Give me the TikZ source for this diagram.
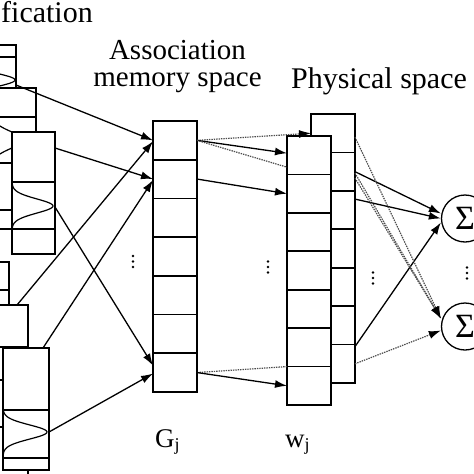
\documentclass[tikz,border=0pt]{standalone}
\usepackage{fontspec}
\setmainfont{Liberation Serif}
\usetikzlibrary{arrows.meta}
\begin{document}
\begin{tikzpicture}[x=1pt,y=-1pt,
 box/.style={draw=black,line width=1.8pt,fill=white},
 ln/.style={draw=black,line width=1.8pt},
 hot/.style={draw=black,line width=2.3pt},
 curve/.style={draw=black,line width=1.2pt},
 cell/.style={draw=black,line width=1.8pt,fill=white,minimum width=44pt,inner sep=0pt,outer sep=0pt},
 arr/.style={draw=black,line width=1.3pt,-{Latex[length=12pt,width=8pt]}},
 dots/.style={draw=black!70,line width=1.2pt,dash pattern=on 1.4pt off 1pt},
 darr/.style={dots,-{Latex[length=12pt,width=8pt,color=black]}},
 sig/.style={circle,draw=black,line width=1.3pt,minimum size=47pt,inner sep=0pt,font=\fontsize{34}{34}\selectfont},
 lbl/.style={inner sep=0pt,font=\fontsize{30}{30}\selectfont},
 vd/.pic={\fill (0,-5.5) circle (1.4pt) (0,0) circle (1.4pt) (0,5.5) circle (1.4pt);}
]
\useasboundingbox (0,0) rectangle (474,474);
\begin{scope}
\clip (0,0) rectangle (474,474);
% ---- left quantization layers, top group
\draw[box] (-28,45) rectangle (16,130);
\draw[ln] (-28,57) -- (16,57);
\draw[curve] plot[domain=57:100,samples=50,variable=\t] ({-28+43*exp(-(\t-80)*(\t-80)/81)},\t);
\draw[box] (-8,88) rectangle (36,229);
\draw[ln] (-8,210) -- (36,210);
\draw[hot] (-8,117) rectangle (36,163);
\draw[curve] plot[domain=117:163,samples=50,variable=\t] ({-8+31*exp(-(\t-140)*(\t-140)/144)},\t);
\draw[box] (12,132) rectangle (55,254);
\draw[hot] (12,182) rectangle (55,229);
\draw[curve] plot[domain=182:229,samples=50,variable=\t] ({12+41*exp(-(\t-206)*(\t-206)/100)},\t);
% ---- bottom group
\draw[box] (-35,262) rectangle (9,480);
\draw[ln] (-35,290) -- (9,290);
\draw[box] (-16,305) rectangle (28,480);
\draw[hot] (-16,347) -- (28,347);
\draw[ln] (-16,380) -- (28,380) (-16,427) -- (28,427);
\draw[box] (3,348) rectangle (49,470);
\draw[hot] (3,410) rectangle (49,458);
\draw[curve] plot[domain=410:458,samples=50,variable=\t] ({3+44*exp(-(\t-432)*(\t-432)/100)},\t);
% ---- association memory G
\foreach \k in {1,...,7} \node[cell,minimum height=38.7pt] (G\k) at (175,{121+38.7*(\k-0.5)}) {};
% ---- physical space (back column V, front column W)
\foreach \k in {1,...,7} \node[cell,minimum height=38.43pt] (V\k) at (333,{114+38.43*(\k-0.5)}) {};
\foreach \k in {1,...,7} \node[cell,minimum height=38.43pt] (W\k) at (309,{136+38.43*(\k-0.5)}) {};
% ---- sums
\node[sig] (S1) at (465,218.5) {Σ};
\node[sig] (S2) at (465,326.5) {Σ};
% ---- arrow sources on the left
\coordinate (sA) at (16,85);
\coordinate (sC1) at (55,148);
\coordinate (sD) at (17,305);
\coordinate (sE) at (43,348);
\coordinate (sC2) at (55,207);
\coordinate (sE2) at (49,432);
\draw[arr] (sA) -- (G1.west);
\draw[arr] (sC1) -- (G2.west);
\draw[arr] (sD) -- ([yshift=-1pt]G1.west);
\draw[arr] (sE) -- ([yshift=-1pt]G2.west);
\draw[arr] (sC2) -- ([yshift=7pt]G7.west);
\draw[arr] (sE2) -- ([yshift=-1pt]G7.west);
% ---- G to physical space
\draw[darr] (G1.east) -- (V1.west);
\draw[arr] (G1.east) -- ([yshift=2pt]W1.west);
\draw[dots] (G1.east) -- ([yshift=-12pt]W1.west);
\draw[arr] (G2.east) -- (W2.west);
\draw[dots] (G7.east) -- (W7.north west);
\draw[arr] (G7.east) -- (W7.west);
% ---- physical space to sums
\draw[arr] (V2.east) -- ([yshift=5pt]S1.west);
\draw[arr] ([yshift=11pt]V3.east) -- (S1.west);
\draw[arr] ([yshift=-2pt]V7.north east) -- ([yshift=-4pt]S1.west);
\draw[darr] ([yshift=-4pt]V1.east) -- ([yshift=8pt]S2.west);
\draw[darr] ([yshift=-1.5pt]V2.east) -- ([yshift=8pt]S2.west);
\draw[darr] ([yshift=-6.5pt]V2.east) -- ([yshift=8pt]S2.west);
\draw[darr] (V7.east) -- ([yshift=-4pt]S2.west);
% ---- ellipses
\pic at (133,261.5) {vd};
\pic at (268,267) {vd};
\pic at (373,278) {vd};
\pic at (467,273) {vd};
% ---- labels
\node[lbl,anchor=base east] (t0) at (93,22) {fication};
\node[lbl,anchor=north,align=center,font=\fontsize{29}{27}\selectfont] (t1) at (177.5,40) {Association\\memory space};
\node[lbl,anchor=base] (t3) at (379,88) {Physical space};
\node[inner sep=0pt,anchor=base west,font=\fontsize{27}{27}\selectfont] (tg) at (155,447) {G\raisebox{-3pt}{\fontsize{18}{18}\selectfont j}};
\node[inner sep=0pt,anchor=base west,font=\fontsize{27}{27}\selectfont] (tw) at (285,447) {w\raisebox{-3pt}{\fontsize{18}{18}\selectfont j}};
\end{scope}
\end{tikzpicture}
\end{document}
